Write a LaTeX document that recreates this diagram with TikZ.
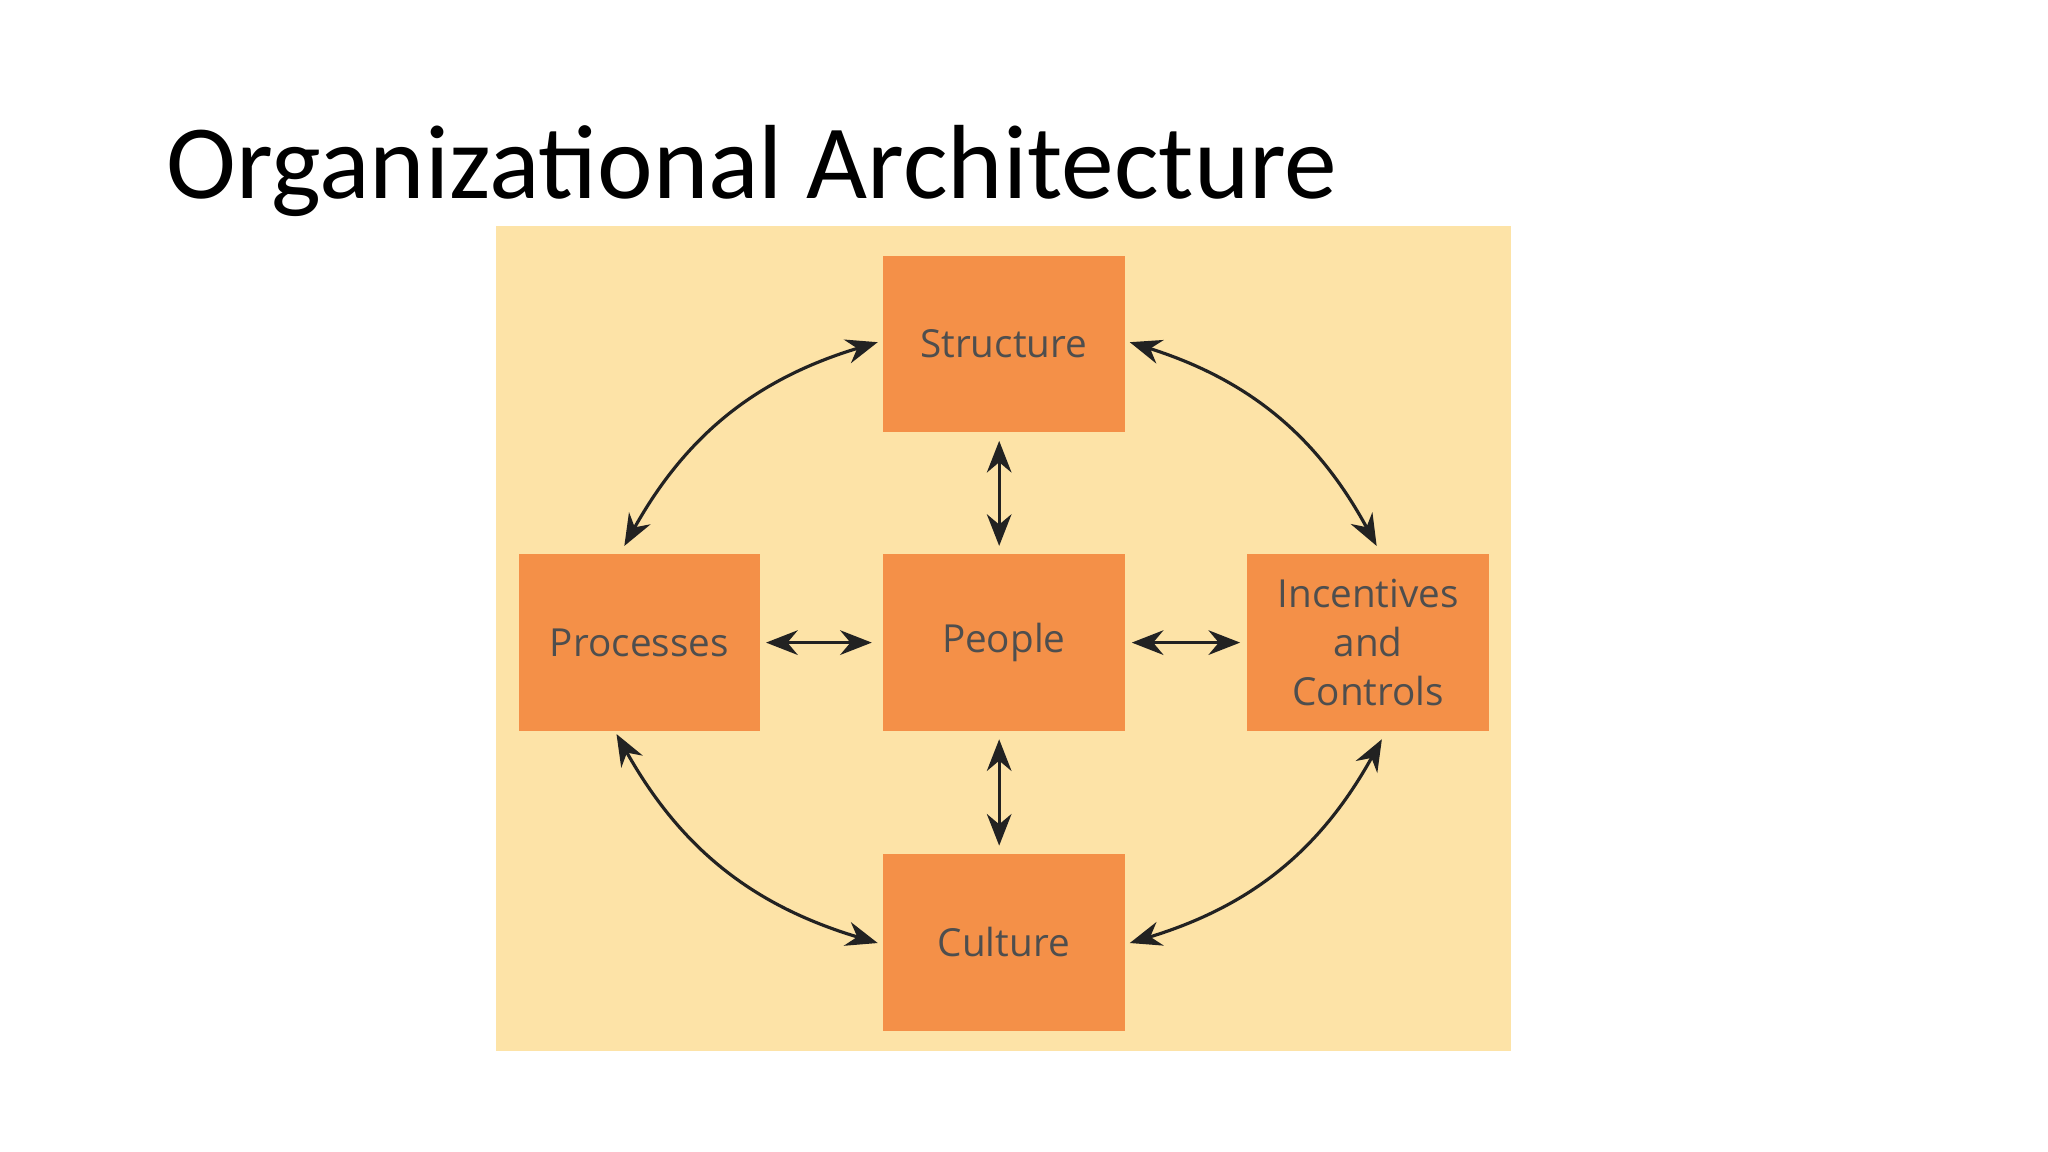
\documentclass[tikz,border=0pt]{standalone}
\usepackage{fontspec}
\setmainfont{Carlito}
\newfontfamily\boxfont{Open Sans}
\usetikzlibrary{arrows.meta}
\definecolor{panel}{HTML}{FDE3A7}
\definecolor{boxor}{HTML}{F49048}
\definecolor{ink}{HTML}{222222}
\begin{document}
\begin{tikzpicture}[x=0.01306cm,y=-0.01306cm,
  blk/.style={fill=boxor,draw=none,minimum width=185*0.01306cm,minimum height=135*0.01306cm,inner sep=0pt,align=center,font=\boxfont\fontsize{11pt}{14pt}\selectfont,text=ink!80},
  link/.style={draw=ink,line width=0.9pt,{Stealth[length=9pt,width=7pt]}-{Stealth[length=9pt,width=7pt]}}]
\useasboundingbox (0,0) rectangle (1568,882);
\fill[white] (0,0) rectangle (1568,882);
\node[anchor=base west,font=\fontsize{30pt}{36pt}\selectfont] (title) at (118,152) {Organizational Architecture};
\fill[panel] (380,173) rectangle (1157,805);
\node[blk] (st) at (768.5,263.5) {Structure};
\node[blk] (pe) at (768.5,492) {People};
\node[blk] (pr) at (489.5,492) {Processes};
\node[blk] (in) at (1047.5,492) {Incentives\\and\\Controls};
\node[blk] (cu) at (768.5,721.5) {Culture};
\coordinate (a1) at (672,262); \coordinate (a2) at (478,418);
\coordinate (b1) at (865,262); \coordinate (b2) at (1054,418);
\coordinate (c1) at (472,562); \coordinate (c2) at (672,722);
\coordinate (d1) at (1058,566); \coordinate (d2) at (865,722);
\draw[link] (a1) to[bend right=22] (a2);
\draw[link] (b1) to[bend left=22] (b2);
\draw[link] (c1) to[bend right=22] (c2);
\draw[link] (d1) to[bend left=22] (d2);
\draw[link] ([yshift=-6*0.01306cm]st.south -| 765,0) -- ([yshift=6*0.01306cm]pe.north -| 765,0);
\draw[link] ([yshift=-6*0.01306cm]pe.south -| 765,0) -- ([yshift=6*0.01306cm]cu.north -| 765,0);
\draw[link] ([xshift=4*0.01306cm]pr.east) -- ([xshift=-8*0.01306cm]pe.west);
\draw[link] ([xshift=5*0.01306cm]pe.east) -- ([xshift=-5*0.01306cm]in.west);
\end{tikzpicture}
\end{document}
